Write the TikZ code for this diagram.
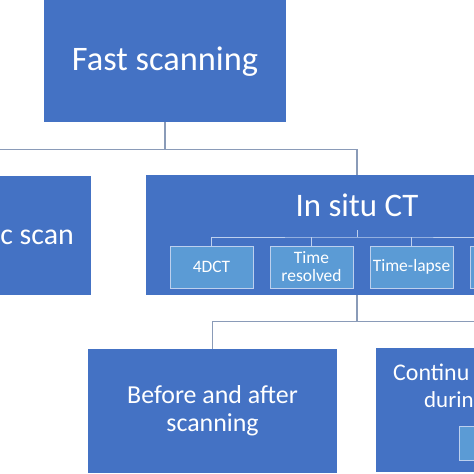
\documentclass[tikz,border=0pt]{standalone}
\usepackage{fontspec}
\setmainfont{Carlito}
\usetikzlibrary{positioning}
\definecolor{boxblue}{HTML}{4472C4}
\definecolor{subblue}{HTML}{5B9BD5}
\definecolor{subline}{HTML}{BDD0EE}
\definecolor{linegray}{HTML}{8A9BB8}

\begin{document}
\begin{tikzpicture}[x=1bp,y=-1bp,
   bigbox/.style={rectangle,fill=boxblue,text=white,inner sep=0pt},
   bigtext/.style={text=white,inner sep=0pt,font=\fontsize{33}{40}\selectfont},
   midtext/.style={text=white,inner sep=0pt,font=\fontsize{24}{28}\selectfont},
   subbox/.style={rectangle,fill=subblue,draw=subline,line width=1bp,text=white,
      minimum width=83bp,minimum height=42bp,inner sep=0pt,align=center,
      font=\fontsize{17.5}{18}\selectfont},
   conn/.style={draw=linegray,line width=1.3bp},
   subconn/.style={draw=subline,line width=1bp}]
   \path[use as bounding box,fill=white] (0,0) rectangle (474,474);
   \clip (0,0) rectangle (474,474);

   \node[bigbox,minimum width=242bp,minimum height=124bp,font=\fontsize{34.5}{40}\selectfont,
      text height=22bp,text depth=0pt] (fast) at (165,60) {Fast scanning};
   \node[bigbox,minimum width=242bp,minimum height=119bp] (static) at (-30,235.5) {};
   \node[bigtext,anchor=base east,font=\fontsize{30}{36}\selectfont] (statictxt) at (74,244) {c scan};
   \node[bigbox,minimum width=422bp,minimum height=120bp] (insitu) at (357,235) {};
   \node[bigtext,anchor=base] (insitutitle) at (357,217) {In situ CT};

   \node[subbox] (d4ct) at (211.5,267) {4DCT};
   \node[subbox,right=16bp of d4ct] (tres) {Time\\resolved};
   \node[subbox,right=16bp of tres] (tlapse) {Time-lapse};
   \node[subbox,right=16bp of tlapse] (tfour) {};

   \node[bigbox,minimum width=249bp,minimum height=124bp,align=center,
      font=\fontsize{26}{28}\selectfont] (before) at (212.5,411) {Before and after\\scanning};
   \node[bigbox,minimum width=249bp,minimum height=124bp] (cont) at (500.5,410) {};
   \node[midtext,anchor=base west] (conttxt) at (393,380) {Continu};
   \node[midtext,anchor=base west,font=\fontsize{23}{28}\selectfont] (conttxtb) at (424,407) {durin};
   \node[subbox,minimum height=34bp] (contsub) at (500.5,443) {};

   \draw[conn] (fast.south) -- ++(0,27) -| (insitu.north);
   \draw[conn] (fast.south) ++(0,27) -| (static.north);

   \coordinate (hub) at ([yshift=-20bp]insitutitle.base);
   \draw[subconn] ([yshift=-13bp]insitutitle.base) -- (hub);
   \draw[subconn] (d4ct.north) |- (hub) -| (tfour.north);
   \draw[subconn] (tres.north) -- (tres.north |- hub);
   \draw[subconn] (tlapse.north) -- (tlapse.north |- hub);

   \draw[conn] (insitu.south) -- ++(0,26) -| (before.north);
   \draw[conn] (insitu.south) ++(0,26) -| (cont.north);
\end{tikzpicture}
\end{document}
